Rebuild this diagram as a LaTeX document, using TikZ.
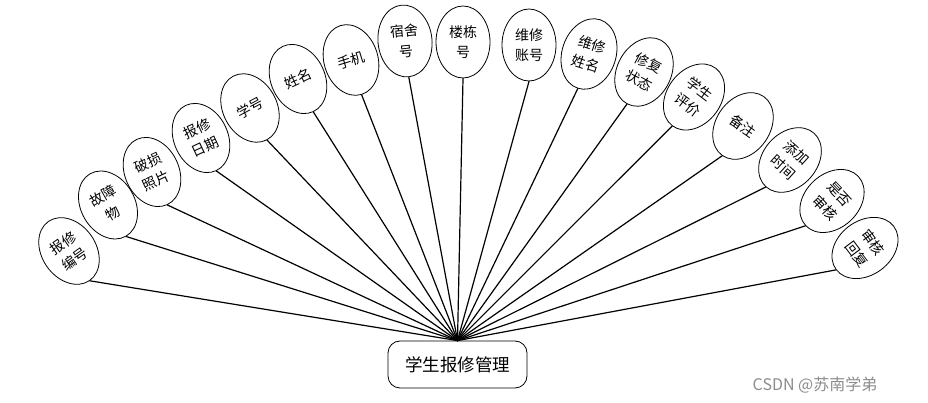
\documentclass[tikz,border=0pt]{standalone}
\usepackage{fontspec}
\usetikzlibrary{shapes.geometric}
\newfontfamily\cjk{Noto Sans CJK SC}
\begin{document}
\begin{tikzpicture}[x=1pt,y=1pt,line join=round,line cap=round,
	attr/.style={draw,ellipse,line width=0.8pt,minimum width=54pt,minimum height=72pt,inner sep=0pt,align=center,font=\cjk\fontsize{14}{20}\selectfont},
	hub/.style={draw,rounded corners=12pt,line width=0.8pt,minimum width=139pt,minimum height=47pt,font=\cjk\fontsize{17.5}{20}\selectfont},
	link/.style={line width=1.2pt}]
	\useasboundingbox (0,0) rectangle (928,403);
	\node[hub] (hub) at (457.5,38.5) {学生报修管理};
	\node[attr,rotate=35] (a1) at (69,152) {报修\\编号};
	\node[attr,rotate=30] (a2) at (108,198) {故障\\物};
	\node[attr,rotate=25] (a3) at (152,231) {破损\\照片};
	\node[attr,rotate=25] (a4) at (201,265) {报修\\日期};
	\node[attr,rotate=28] (a5) at (250,295) {学号};
	\node[attr,rotate=25] (a6) at (298,324) {姓名};
	\node[attr,rotate=17] (a7) at (351,343) {手机};
	\node[attr,rotate=6] (a8) at (405,362) {宿舍\\号};
	\node[attr] (a9) at (463,361) {楼栋\\号};
	\node[attr] (a10) at (529,358) {维修\\账号};
	\node[attr,rotate=-18] (a11) at (589,349) {维修\\姓名};
	\node[attr,rotate=-28] (a12) at (644,331) {修复\\状态};
	\node[attr,rotate=-37] (a13) at (694,306) {学生\\评价};
	\node[attr,rotate=-35] (a14) at (743,277) {备注};
	\node[attr,rotate=-42] (a15) at (790,243) {添加\\时间};
	\node[attr,rotate=-47] (a16) at (832,202) {是否\\审核};
	\node[attr,rotate=-53] (a17) at (865,155) {审核\\回复};
	\foreach \i in {1,...,17}
		\draw[link] (hub.north) -- (a\i.south);
	% watermark
	\node[font=\cjk\fontsize{16}{18}\selectfont,text=black!45] (mark) at (815,18) {CSDN @苏南学弟};
\end{tikzpicture}
\end{document}
